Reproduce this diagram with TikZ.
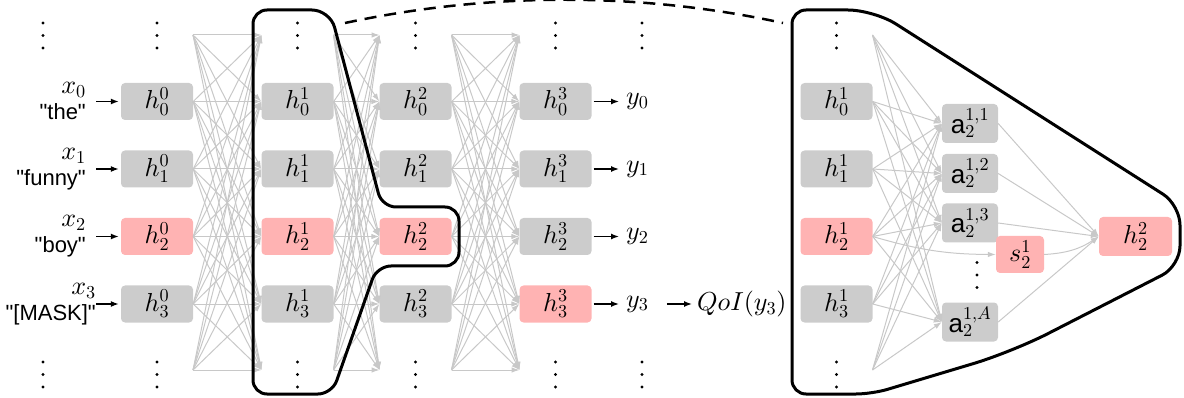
\documentclass[tikz,border=0pt]{standalone}
\usepackage{fontspec}
\DeclareFontShape{OML}{cmm}{m}{it}{<->cmmi10}{}
\DeclareFontShape{OT1}{cmr}{m}{n}{<->cmr10}{}
\DeclareFontShape{OMS}{cmsy}{m}{n}{<->cmsy10}{}
\newfontfamily\hv{Liberation Sans}
\usetikzlibrary{arrows.meta}
\definecolor{gnode}{HTML}{CCCCCC}
\definecolor{pnode}{HTML}{FFB3B3}
\definecolor{gline}{HTML}{C8C8C8}
\begin{document}
\begin{tikzpicture}[x=1pt,y=-1pt,
  hbox/.style={fill=gnode, rounded corners=4pt, minimum width=72pt, minimum height=37pt, inner sep=0pt, font=\fontsize{26}{30}\selectfont},
  abox/.style={hbox, minimum width=56pt, minimum height=39pt},
  conn/.style={draw=gline, line width=1pt, -{Latex[length=8pt,width=5.5pt]}},
  blk/.style={line width=1.4pt, -{Latex[length=8pt,width=6pt]}},
  outline/.style={line width=3pt, line join=round},
  lbl/.style={font=\fontsize{26}{26}\selectfont, inner sep=0pt},
  vdts/.pic={\foreach \d in {-12.5,0,12.5} \fill (0,\d) circle (1.6pt);}
]
\useasboundingbox (0,0) rectangle (1184,398);

% ---------- left network nodes ----------
\foreach \c/\x/\p in {0/157/2, 1/297.5/2, 2/415.5/2, 3/555.5/3}{
  \foreach \r/\y in {0/101.5, 1/169, 2/236.5, 3/304}{
    \ifnum\r=\p \def\fc{pnode}\else\def\fc{gnode}\fi
    \pgfmathtruncatemacro\k{\r+1}
    \node[hbox, fill=\fc] (h\c\r) at (\x,\y) {$h^{\c}_{\r}$};
    \coordinate (e\c-\k) at (h\c\r.east);
    \coordinate (w\c-\k) at (h\c\r.west);
  }
  \coordinate (e\c-0) at (\x+36,35);
  \coordinate (w\c-0) at (\x-36,35);
  \coordinate (e\c-5) at (\x+36,370);
  \coordinate (w\c-5) at (\x-36,370);
}

% ---------- left network connections ----------
\foreach \c/\n in {0/1, 1/2, 2/3}{
  \foreach \i in {0,...,5}{
    \foreach \j in {0,...,5}{
      \draw[conn] (e\c-\i) -- (w\n-\j);
    }
  }
}

% ---------- inputs ----------
\foreach \r/\y/\w/\xe in {0/101.5/{"the"}/86, 1/169/{"funny"}/86, 2/236.5/{"boy"}/86, 3/304/{"[MASK]"}/96}{
  \node[lbl, anchor=east, align=right] (x\r) at (\xe,\y) {$x_{\r}$\\{\hv\fontsize{22}{26}\selectfont \w}};
  \coordinate (in\r) at (96,\y);
  \draw[blk, shorten >=2pt] (in\r) -- (h0\r.west);
}

% ---------- outputs ----------
\foreach \r/\y in {0/101.5, 1/169, 2/236.5, 3/304}{
  \node[lbl, anchor=west] (y\r) at (626,\y) {$y_{\r}$};
  \draw[blk, shorten <=2pt, shorten >=7pt] (h3\r.east) -- (y\r.west);
}
\node[lbl, anchor=west] (qoi) at (697,304) {$QoI(y_3)$};
\draw[blk, shorten <=18pt, shorten >=5pt] (y3.east) -- (qoi.west);

% ---------- dots ----------
\foreach \x in {43,157,297.5,415.5,555.5,642,836.5}{
  \pic at (\x,35.5) {vdts};
  \pic at (\x,374.5) {vdts};
}
\pic at (977,275) {vdts};

% ---------- right panel ----------
\foreach \r/\y in {0/101.5, 1/169, 2/236.5, 3/304}{
  \ifnum\r=2 \def\fc{pnode}\else\def\fc{gnode}\fi
  \pgfmathtruncatemacro\k{\r+1}
  \node[hbox, fill=\fc] (R\r) at (836.5,\y) {$h^{1}_{\r}$};
  \coordinate (Re-\k) at (R\r.east);
}
\coordinate (Re-0) at (872.5,35);
\coordinate (Re-5) at (872.5,370);

\node[abox] (a1) at (970,123.5) {$\hbox{\hv a}^{1,1}_2$};
\node[abox] (a2) at (970,173.5) {$\hbox{\hv a}^{1,2}_2$};
\node[abox] (a3) at (970,223) {$\hbox{\hv a}^{1,3}_2$};
\node[abox] (aA) at (970,322) {$\hbox{\hv a}^{1,A}_2$};
\node[hbox, fill=pnode, minimum width=48pt] (s) at (1020,254.5) {$s^1_2$};
\node[hbox, fill=pnode, minimum width=73pt, minimum height=39pt] (H) at (1135.5,236.5) {$h^2_2$};

\foreach \i in {0,...,5}{
  \foreach \t in {a1,a2,a3,aA}{
    \draw[conn] (Re-\i) -- (\t.west);
  }
}
\draw[conn] (R2.east) to[bend right=8] (s.west);
\foreach \t in {a1,a2,a3,aA}{
  \draw[conn] (\t.east) -- (H.west);
}
\draw[conn] (s.east) to[bend right=15] (H.west);

% ---------- outlines ----------
\draw[outline] (253,200) [rounded corners=14pt] -- (253,10) [rounded corners=18pt] -- (330,10) [rounded corners=14pt] -- (382,207) -- (459,207) -- (459,266) -- (377,266) -- (332,394) -- (253,394) -- cycle;
\draw[outline] (792,200) [rounded corners=14pt] -- (792,10) [rounded corners=26pt] -- (874,10) [rounded corners=20pt] -- (1180,205) -- (1180,266) [rounded corners=40pt] -- (1012,352) [rounded corners=16pt] -- (872,394) [rounded corners=14pt] -- (792,394) -- cycle;

\coordinate (arcL) at (345,23);
\coordinate (arcR) at (783,23);
\draw[line width=2.5pt, dash pattern=on 12pt off 8pt] (arcL) .. controls (490,-8) and (640,-8) .. (arcR);
\end{tikzpicture}
\end{document}
